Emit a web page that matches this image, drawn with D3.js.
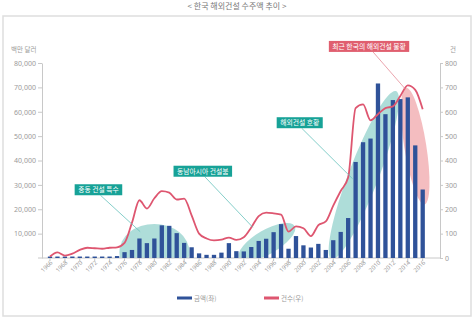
<!DOCTYPE html>
<html><head><meta charset="utf-8">
<script src="https://cdn.jsdelivr.net/npm/d3@7"></script>
<style>
body{margin:0;background:#fff}
svg{display:block;font-family:"Noto Sans CJK KR","Noto Sans",sans-serif}
</style>
</head><body>
<svg id="c" width="474" height="323"></svg>
<script>
const years = [1966,1967,1968,1969,1970,1971,1972,1973,1974,1975,1976,1977,1978,1979,1980,1981,1982,1983,1984,1985,1986,1987,1988,1989,1990,1991,1992,1993,1994,1995,1996,1997,1998,1999,2000,2001,2002,2003,2004,2005,2006,2007,2008,2009,2010,2011,2012,2013,2014,2015,2016];
const amounts = [600,600,600,600,600,600,600,600,600,800,2400,3300,8000,6100,8000,13400,13200,10200,6200,4400,1900,1300,1300,2200,6100,2800,2700,4500,7000,7900,10600,13900,3800,9000,5200,4300,5800,3300,7300,10700,16400,39400,47500,49000,71600,59000,64800,65200,65900,46200,28100];
const counts = [6,23,10,18,33,42,40,38,42,44,62,145,237,203,245,274,268,240,244,175,100,80,72,75,84,74,85,125,172,186,183,178,108,130,122,90,135,150,215,275,330,615,630,565,590,615,622,665,708,690,610];
const leftTicks = [10000,20000,30000,40000,50000,60000,70000,80000];
const rightTicks = [0,100,200,300,400,500,600,700,800];
const xLabelYears = [1966,1968,1970,1972,1974,1976,1978,1980,1982,1984,1986,1988,1990,1992,1994,1996,1998,2000,2002,2004,2006,2008,2010,2012,2014,2016];
const title = "< 한국 해외건설 수주액 추이 >";
const leftUnit = "백만 달러";
const rightUnit = "건";
const legendNames = ["금액(좌)", "건수(우)"];
// annotation ellipses: anchor year / amount, then shape
const blobYears = [1980, 1995.1, 2008.1, 2015];
const blobAmounts = [2500, 6560, 34000, 45900];
const blobShapes = [[35,28,0],[32,12,-30],[90,15,-69],[59,11,81]];
const blobKinds = ["teal","teal","teal","red"];
const calloutTexts = ["중동 건설 특수","동남아시아 건설붐","해외건설 호황","최근 한국의 해외건설 불황"];
const calloutBox = [[1972.5,28000],[1986.5,35600],[1999.5,55500],[2008.8,86800]];
const calloutTarget = [[1978.1,10800],[1993.2,12600],[2006.6,32500],[2013.7,69200]];

const C = {bar:"#2f5299", line:"#de5670", teal:"#17a297", tealFill:"#9ad4d0", tealLine:"#66c2bb",
  red:"#e05f6f", redFill:"#f2b1b5", redLine:"#e58d98", axis:"#c8c8c8", text:"#9a9a9a"};

const svg = d3.select("#c");
svg.append("rect").attr("x",3).attr("y",16).attr("width",468).attr("height",300)
  .attr("fill","#fff").attr("stroke","#dedede").attr("stroke-width",1.5);
svg.append("text").attr("x",237).attr("y",9).attr("text-anchor","middle")
  .attr("font-size",8).attr("fill","#777").text(title);

const x = d3.scalePoint().domain(years).range([50, 422.7]);
const xl = d3.scaleLinear().domain([1966, 2016]).range([50, 422.7]);
const yL = d3.scaleLinear().domain([0,80000]).range([258,63]);
const yR = d3.scaleLinear().domain([0,800]).range([258,63]);

const defs = svg.append("defs");
defs.append("clipPath").attr("id","plot").append("rect").attr("x",42).attr("y",20).attr("width",398).attr("height",238);

// ellipses
const gB = svg.append("g").attr("clip-path","url(#plot)");
blobYears.forEach((yr,i)=>{
  const [rx,ry,rot] = blobShapes[i];
  const cx = xl(yr), cy = yL(blobAmounts[i]);
  gB.append("ellipse").attr("cx",0).attr("cy",0).attr("rx",rx).attr("ry",ry)
    .attr("transform",`translate(${cx},${cy}) rotate(${rot})`)
    .attr("fill", blobKinds[i]==="teal"?C.tealFill:C.redFill)
    .attr("opacity", blobKinds[i]==="teal"?0.8:0.85);
});

// axes
const axL = svg.append("g").attr("transform","translate(42,0)")
  .call(d3.axisLeft(yL).tickValues(leftTicks).tickSize(4).tickSizeOuter(0).tickFormat(d3.format(",")));
const axR = svg.append("g").attr("transform","translate(440,0)")
  .call(d3.axisRight(yR).tickValues(rightTicks).tickSize(3).tickSizeOuter(0));
[axL,axR].forEach(a=>{
  a.select(".domain").attr("stroke",C.axis);
  a.selectAll(".tick line").attr("stroke",C.axis);
  a.selectAll(".tick text").attr("fill",C.text).attr("font-size",7)
   .attr("font-family",'"Noto Sans","Noto Sans CJK KR",sans-serif');
});
axL.selectAll(".tick text").attr("x",-6);
axR.selectAll(".tick text").attr("x",5);
svg.append("line").attr("x1",38).attr("x2",441).attr("y1",258).attr("y2",258).attr("stroke",C.axis);

// x labels
const gx = svg.append("g");
xLabelYears.forEach(yr=>{
  const px = x(yr);
  gx.append("line").attr("x1",px).attr("x2",px).attr("y1",258).attr("y2",261).attr("stroke",C.axis);
  gx.append("text").attr("transform",`translate(${px+3},263) rotate(-45)`)
    .attr("text-anchor","end").attr("font-size",6).attr("fill",C.text)
    .attr("font-family",'"Noto Sans",sans-serif').text(yr);
});

// bars
svg.append("g").selectAll("rect").data(years).join("rect")
  .attr("x",d=>x(d)-2.15).attr("width",4.3)
  .attr("y",(d,i)=>yL(amounts[i])).attr("height",(d,i)=>yL(0)-yL(amounts[i]))
  .attr("fill",C.bar);

// line
svg.append("path").datum(years)
  .attr("d", d3.line().x(d=>x(d)).y((d,i)=>yR(counts[i])).curve(d3.curveMonotoneX))
  .attr("fill","none").attr("stroke",C.line).attr("stroke-width",1.8);

// callouts
calloutTexts.forEach((t,i)=>{
  const isRed = i===3;
  const bx = xl(calloutBox[i][0]), by = yL(calloutBox[i][1]);
  const tx = xl(calloutTarget[i][0]), ty = yL(calloutTarget[i][1]);
  const g = svg.append("g");
  const txt = g.append("text").attr("x",bx).attr("y",by+2.4).attr("text-anchor","middle")
    .attr("font-size",6.8).attr("fill","#fff").text(t);
  const w = txt.node().getComputedTextLength() + 7;
  g.insert("line","text").attr("x1",bx+(isRed?4:2)).attr("y1",by+5.5).attr("x2",tx).attr("y2",ty)
    .attr("stroke",isRed?C.redLine:C.tealLine).attr("stroke-width",0.8);
  g.insert("rect","text").attr("x",bx-w/2).attr("y",by-5.5).attr("width",w).attr("height",11)
    .attr("fill",isRed?C.red:C.teal);
});

// unit labels
svg.append("text").attr("x",11).attr("y",52).attr("font-size",6.5).attr("fill",C.text).text(leftUnit);
svg.append("text").attr("x",450).attr("y",52).attr("font-size",6.5).attr("fill",C.text).text(rightUnit);

// legend
const leg = svg.append("g");
[[177,C.bar],[264,C.line]].forEach(([lx,col],i)=>{
  leg.append("rect").attr("x",lx).attr("y",296.5).attr("width",15).attr("height",3).attr("fill",col);
  leg.append("text").attr("x",lx+17).attr("y",300.5).attr("font-size",6.5).attr("fill",C.text).text(legendNames[i]);
});
</script>
</body></html>
